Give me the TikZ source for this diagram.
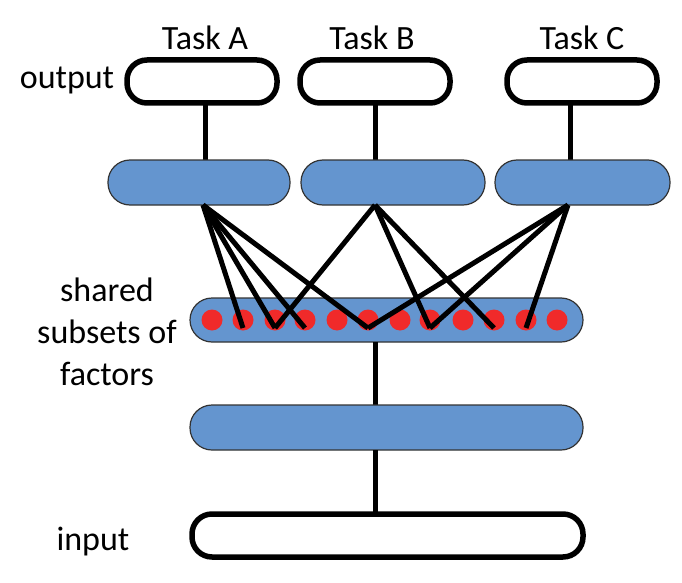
\documentclass[tikz,border=0pt]{standalone}
\usepackage{fontspec}
\setmainfont{Carlito}
\definecolor{bl}{HTML}{6495CF}
\definecolor{rd}{HTML}{F02A2A}
\begin{document}
\begin{tikzpicture}[x=1pt,y=-1pt,
  wbox/.style={draw=black,line width=5.5pt,fill=white,rounded corners=20pt},
  bbox/.style={draw=black!80,line width=1.2pt,fill=bl,rounded corners=22pt},
  ln/.style={line width=5pt},
  dot/.style={circle,fill=rd,inner sep=0pt,minimum size=21pt},
  lab/.style={font=\fontsize{34}{38}\selectfont,align=center}]
\useasboundingbox (0,0) rectangle (682,583);
% output boxes
\draw[wbox] (127,60) rectangle (277,103);
\draw[wbox] (300,60) rectangle (450,103);
\draw[wbox] (507,60) rectangle (657,103);
\coordinate (oA) at (205,103); \coordinate (oB) at (375,103); \coordinate (oC) at (570,103);
\coordinate (mA) at (205,160); \coordinate (mB) at (375,160); \coordinate (mC) at (570,160);
\draw[ln] (oA)--(mA); \draw[ln] (oB)--(mB); \draw[ln] (oC)--(mC);
% middle boxes
\draw[bbox] (108,160) rectangle (290,205);
\draw[bbox] (301,160) rectangle (485,205);
\draw[bbox] (495,160) rectangle (670,205);
% shared bar
\draw[bbox] (190,298) rectangle (583,342);
\foreach \i/\x in {1/212,2/243,3/275,4/305,5/337,6/368,7/400,8/430,9/463,10/494,11/526,12/557}
  \node[dot] (d\i) at (\x,320) {};
\coordinate (hA) at (203,205); \coordinate (hB) at (375,205); \coordinate (hC) at (568,205);
\foreach \d in {2,3,4,6} \draw[ln] (hA)--([yshift=-8pt]d\d.center);
\foreach \d in {3,8,10} \draw[ln] (hB)--([yshift=-8pt]d\d.center);
\foreach \d in {6,8,11} \draw[ln] (hC)--([yshift=-8pt]d\d.center);
% lower
\coordinate (s1) at (375,342); \coordinate (s2) at (375,405);
\draw[ln] (s1)--(s2);
\draw[bbox] (190,405) rectangle (583,450);
\coordinate (s3) at (375,450); \coordinate (s4) at (375,512);
\draw[ln] (s3)--(s4);
\draw[wbox] (192,514) rectangle (583,557);
% labels
\node[lab] (tA) at (205,38) {Task A};
\node[lab] (tB) at (372,38) {Task B};
\node[lab] (tC) at (582,38) {Task C};
\node[lab] (lo) at (67,80) {output};
\node[lab,font=\fontsize{34}{42}\selectfont] (ls) at (107,332) {shared\\subsets of\\factors};
\node[lab] (li) at (93,542) {input};
\end{tikzpicture}
\end{document}
